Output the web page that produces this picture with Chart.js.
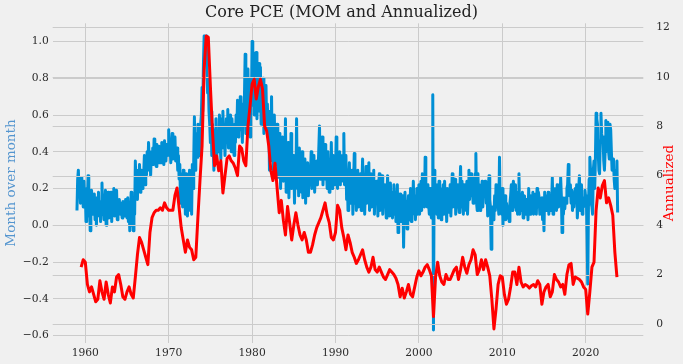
<!DOCTYPE html>
<html>
<head>
  <meta charset="UTF-8" />
  <title>Core PCE (MOM and Annualized)</title>
  <script src="https://cdn.jsdelivr.net/npm/chart.js@4.4.0/dist/chart.umd.min.js"></script>
  <style>
    html,body{margin:0;padding:0;background:#f0f0f0;}
    #wrap{width:683px;height:364px;position:relative;}
  </style>
</head>
<body>
  <div id="wrap"><canvas id="pceChart"></canvas></div>

  <script>
    // month-over-month change (%), one row per year, Jan 1959 .. Nov 2023
    const momStart=1959.0;
    const momValues=[
      0.08,0.25,0.30,0.18,0.22,0.12,0.26,0.15,0.20,0.10,0.24,0.14,
      0.18,0.02,0.20,0.12,0.27,0.05,0.16,-0.03,0.12,0.19,0.06,0.15,
      0.10,0.17,0.03,0.12,0.00,0.15,0.08,0.18,0.05,0.13,0.02,0.11,
      0.23,0.06,0.15,0.03,0.12,0.19,0.00,0.14,0.07,0.18,0.04,0.13,
      0.09,0.18,0.02,0.16,0.08,0.20,0.05,0.15,0.10,0.19,0.03,0.12,
      0.08,0.14,0.06,0.12,0.09,0.04,0.13,0.07,0.11,0.05,0.14,0.08,
      0.04,0.15,0.02,0.12,-0.03,0.09,0.18,0.00,0.14,-0.03,0.10,0.06,
      0.35,0.20,0.28,0.14,0.30,0.22,0.33,0.18,0.26,0.30,0.20,0.24,
      0.28,0.38,0.22,0.35,0.27,0.40,0.30,0.45,0.33,0.38,0.27,0.40,
      0.35,0.42,0.33,0.47,0.36,0.40,0.32,0.44,0.38,0.34,0.43,0.37,
      0.38,0.34,0.45,0.36,0.42,0.33,0.46,0.40,0.35,0.44,0.38,0.40,
      0.52,0.38,0.46,0.34,0.43,0.50,0.36,0.45,0.40,0.48,0.35,0.42,
      0.42,0.30,0.38,0.25,0.33,0.12,0.28,0.22,0.10,0.30,0.18,0.25,
      0.06,0.28,0.15,0.05,0.22,0.08,0.30,0.12,0.20,0.06,0.33,0.20,
      0.35,0.59,0.30,0.42,0.50,0.37,0.55,0.40,0.48,0.38,0.55,0.60,
      0.75,0.62,0.88,1.03,0.95,1.02,1.03,0.85,0.72,0.80,0.62,0.55,
      0.45,0.62,0.38,0.55,0.45,0.30,0.52,0.40,0.58,0.35,0.50,0.42,
      0.40,0.60,0.45,0.36,0.58,0.48,0.62,0.42,0.55,0.38,0.50,0.58,
      0.50,0.63,0.42,0.55,0.48,0.60,0.40,0.58,0.46,0.52,0.38,0.55,
      0.45,0.60,0.50,0.68,0.48,0.62,0.55,0.70,0.52,0.60,0.45,0.66,
      0.55,0.70,0.93,0.50,0.78,0.62,0.85,0.55,0.72,0.48,0.80,0.65,
      1.00,0.66,0.94,0.60,0.85,0.72,0.94,0.58,0.80,0.65,0.88,0.62,
      0.86,0.55,0.72,0.62,0.80,0.50,0.70,0.58,0.76,0.52,0.66,0.48,
      0.62,0.30,0.58,0.40,0.70,0.35,0.52,0.26,0.60,0.38,0.48,0.33,
      0.55,0.26,0.45,0.32,0.50,0.20,0.42,0.30,0.48,0.24,0.40,0.28,
      0.58,0.18,0.40,0.30,0.45,0.15,0.36,0.22,0.50,0.20,0.34,0.25,
      0.38,0.12,0.30,0.20,0.58,0.22,0.35,0.16,0.42,0.25,0.32,0.18,
      0.40,0.15,0.30,0.22,0.36,0.12,0.28,0.20,0.34,0.16,0.26,0.22,
      0.28,0.40,0.20,0.32,0.24,0.38,0.18,0.30,0.26,0.35,0.22,0.30,
      0.30,0.54,0.25,0.38,0.28,0.48,0.22,0.36,0.30,0.44,0.25,0.32,
      0.20,0.40,0.26,0.18,0.35,0.24,0.45,0.20,0.30,0.38,0.22,0.28,
      0.25,0.48,0.30,0.20,0.36,0.26,0.40,0.22,0.34,0.28,0.38,0.24,
      0.50,0.22,0.30,0.38,0.14,0.28,0.08,0.25,0.34,0.12,0.26,0.18,
      0.30,0.06,0.22,0.39,0.12,0.28,0.08,0.20,0.30,0.10,0.26,0.16,
      0.28,0.08,0.22,0.36,0.14,0.26,0.06,0.20,0.32,0.12,0.24,0.16,
      0.34,0.08,0.22,0.28,0.10,0.24,0.12,0.30,0.06,0.20,0.12,0.24,
      0.24,0.05,0.20,0.28,0.08,0.22,0.12,0.27,0.06,0.18,0.10,0.22,
      0.20,0.04,0.16,0.27,0.08,0.20,0.05,0.23,0.10,0.18,0.04,0.16,
      0.22,0.06,0.18,0.02,0.14,0.22,-0.04,0.14,0.05,0.17,0.02,0.12,
      0.04,0.16,-0.12,0.12,0.18,0.02,0.13,-0.02,0.07,0.16,0.03,0.10,
      0.20,0.02,0.14,0.06,0.24,0.08,0.16,0.03,0.12,0.20,0.06,0.15,
      0.22,0.06,0.16,0.24,0.08,0.28,0.12,0.20,0.10,0.37,0.14,0.22,
      0.10,0.22,0.12,0.06,0.20,0.08,0.04,0.16,0.71,-0.57,0.30,0.14,
      0.10,0.22,0.06,0.18,0.04,0.24,0.10,0.20,0.03,0.16,0.08,0.22,
      0.06,0.24,0.08,0.16,0.02,0.20,0.10,0.18,0.07,0.22,0.05,0.16,
      0.28,0.10,0.22,0.14,0.25,0.06,0.20,0.10,0.22,0.13,0.07,0.20,
      0.32,0.10,0.24,0.14,0.06,0.22,0.12,0.20,0.08,0.24,0.06,0.18,
      0.30,0.14,0.24,0.28,0.16,0.26,0.12,0.24,0.15,0.28,0.39,0.12,
      0.08,0.28,0.12,0.22,0.08,0.20,0.14,0.24,0.10,0.22,0.16,0.24,
      0.24,0.12,0.20,0.05,0.22,0.27,0.14,0.10,-0.13,0.00,0.10,0.03,
      0.04,0.16,0.08,0.22,0.10,0.20,0.12,0.06,0.37,0.08,0.18,0.06,
      0.20,0.00,0.14,0.06,0.16,0.03,0.12,0.10,0.04,0.09,0.02,0.12,
      0.16,0.22,0.08,0.20,0.24,0.14,0.10,0.22,0.08,0.15,0.06,0.18,
      0.28,0.06,0.17,0.10,0.08,0.18,0.04,0.14,0.16,0.08,0.06,0.14,
      0.14,0.03,0.20,0.08,0.06,0.16,0.13,0.08,0.18,0.06,0.14,0.16,
      0.17,0.06,0.20,0.12,0.18,0.15,0.06,0.13,0.09,0.15,0.03,0.10,
      -0.03,0.18,0.08,0.16,0.12,0.08,0.18,0.06,0.13,0.16,0.08,0.12,
      0.26,0.06,0.20,0.16,0.10,0.20,0.08,0.22,0.14,0.10,0.17,0.11,
      0.26,0.16,-0.04,0.15,0.06,0.13,0.09,0.15,0.12,0.20,0.22,0.33,
      0.24,0.16,0.22,0.12,0.19,0.08,0.14,0.10,0.17,0.20,0.13,0.22,
      0.04,0.12,0.20,0.27,0.08,0.17,0.22,0.06,0.13,0.10,0.15,0.19,
      0.15,0.16,-0.05,-0.32,0.10,0.25,0.37,0.30,0.12,0.10,0.06,0.30,
      0.35,0.20,0.36,0.61,0.58,0.55,0.40,0.30,0.28,0.46,0.61,0.50,
      0.45,0.48,0.35,0.30,0.40,0.57,0.50,0.56,0.45,0.40,0.36,0.55,
      0.52,0.40,0.30,0.33,0.36,0.25,0.20,0.30,0.28,0.35,0.07
    ];

    // annualized rate (%), one value per quarter from 1959.5
    const annStart=1959.5;
    const annValues=[
      2.3,2.6,
      2.5,1.6,1.3,1.5,  1.2,0.9,1.0,1.75,  1.3,1.0,1.7,1.2,  0.85,1.5,1.3,1.9,
      2.0,1.6,1.1,1.0,  1.3,1.5,1.2,1.05,  1.9,2.8,3.5,3.3,  3.0,2.7,2.4,3.7,
      4.3,4.5,4.6,4.6,  4.7,4.6,4.9,4.7,  4.6,4.6,4.6,5.2,  5.5,4.7,3.9,3.4,
      2.9,3.4,3.1,3.0,  2.6,2.7,4.3,5.8,  7.2,10.3,11.65,11.6,  9.6,7.8,6.4,6.8,
      6.2,6.6,5.3,6.0,  6.7,6.8,6.6,6.5,  6.3,6.0,7.2,7.1,  6.6,6.4,8.0,8.8,
      9.7,9.9,9.1,9.6,  9.9,9.5,8.0,7.8,  7.2,6.2,5.8,6.5,  5.5,4.5,5.0,4.2,
      3.6,4.75,4.1,3.4, 4.0,4.5,4.0,3.6,  3.4,3.7,3.4,2.9,  2.9,3.2,3.6,3.9,
      4.1,4.3,4.6,4.9,  4.4,4.1,3.5,3.4,  3.7,4.8,4.6,3.9,  3.5,3.0,3.6,3.3,
      2.9,2.7,2.45,2.6, 2.8,3.0,2.6,2.3,  2.1,2.3,2.7,2.2,  2.1,2.3,2.1,1.9,
      1.8,2.0,2.2,2.1,  2.0,1.85,1.6,1.1, 1.45,1.05,1.3,1.6, 1.2,1.1,1.5,1.9,
      2.15,1.95,2.1,2.3, 2.4,2.2,1.95,0.3, 1.9,2.5,1.95,1.7, 1.6,2.0,1.8,1.8,
      2.0,2.2,2.3,1.8,  2.2,2.7,2.3,2.05, 2.4,2.6,3.0,2.8,  2.0,2.2,2.6,2.2,
      2.6,2.3,1.95,1.0, -0.2,0.6,1.6,1.95, 1.9,1.2,0.8,1.0, 1.5,2.1,2.1,1.6,
      2.3,1.7,1.5,1.6,  1.55,1.45,1.55,1.6, 1.5,1.75,1.6,0.8, 1.3,1.5,1.6,1.1,
      1.3,2.0,1.8,1.7,  1.5,1.6,1.2,2.0,  2.4,2.45,1.6,1.9, 1.85,1.8,1.7,1.5,
      1.4,0.4,1.3,2.3,  2.5,4.6,5.5,5.1,  5.6,5.8,4.9,5.1,  4.8,4.4,2.9,1.9
    ];

    const yearTicks=[1960,1970,1980,1990,2000,2010,2020];
    const momTicks=[-0.6,-0.4,-0.2,0.0,0.2,0.4,0.6,0.8,1.0];
    const annTicks=[0,2,4,6,8,10,12];

    const serif='"DejaVu Serif", serif';
    const gridColor='#cbcbcb';
    const minus=s=>String(s).replace('-','\u2212');

    const momData=momValues.map((v,i)=>({x:momStart+i/12,y:v}));
    const annData=annValues.map((v,i)=>({x:annStart+i*0.25,y:v}));

    // the twin axis grid sits above the blue line but below the red one, and its label reads upward
    const twinAxis={
      id:'twinAxis',
      afterDatasetDraw(chart,args){
        if(args.index!==1) return;
        const ctx=chart.ctx, a=chart.chartArea, s=chart.scales.y1;
        ctx.save();
        ctx.strokeStyle=gridColor;
        ctx.lineWidth=1;
        annTicks.forEach(t=>{
          const y=Math.round(s.getPixelForValue(t))+0.5;
          ctx.beginPath();ctx.moveTo(a.left,y);ctx.lineTo(a.right,y);ctx.stroke();
        });
        ctx.restore();
      },
      afterDraw(chart){
        const ctx=chart.ctx, a=chart.chartArea;
        ctx.save();
        ctx.translate(669,(a.top+a.bottom)/2);
        ctx.rotate(-Math.PI/2);
        ctx.font='13.5px '+serif;
        ctx.fillStyle='#ff0000';
        ctx.textAlign='center';
        ctx.textBaseline='middle';
        ctx.fillText('Annualized',0,0);
        ctx.restore();
      }
    };

    const tickFont={family:serif,size:10.7};

    new Chart(document.getElementById('pceChart'),{
      type:'line',
      data:{datasets:[
        {label:'Annualized',data:annData,yAxisID:'y1',borderColor:'#ff0000',borderWidth:3,pointRadius:0,tension:0,borderJoinStyle:'round',fill:false},
        {label:'Month over month',data:momData,yAxisID:'y',borderColor:'#008fd5',borderWidth:3,pointRadius:0,tension:0,borderJoinStyle:'round',fill:false}
      ]},
      options:{
        responsive:true,maintainAspectRatio:false,animation:false,devicePixelRatio:1,events:[],
        layout:{padding:0},
        plugins:{
          legend:{display:false},
          tooltip:{enabled:false},
          title:{display:true,text:'Core PCE (MOM and Annualized)',color:'#222',
            font:{family:serif,size:16,weight:'normal'},padding:{top:3,bottom:1.1}}
        },
        scales:{
          x:{type:'linear',min:1956.09,max:2026.91,
            afterBuildTicks:s=>{s.ticks=yearTicks.map(v=>({value:v}));},
            afterFit:s=>{s.height=21.3;},
            grid:{color:gridColor,lineWidth:1,drawTicks:false},
            border:{display:false},
            ticks:{font:tickFont,color:'#2b2b2b',padding:4,maxRotation:0,callback:v=>String(v)}},
          y:{position:'left',min:-0.639,max:1.099,
            afterBuildTicks:s=>{s.ticks=momTicks.map(v=>({value:v}));},
            afterFit:s=>{s.width=52.7;},
            grid:{color:gridColor,lineWidth:1,drawTicks:false},
            border:{display:false},
            ticks:{font:tickFont,color:'#2b2b2b',padding:4,callback:v=>minus(v.toFixed(1))},
            title:{display:true,text:'Month over month',color:'#5495cf',
              font:{family:serif,size:13.5},padding:{top:3,bottom:0}}},
          y1:{position:'right',min:-0.756,max:12.162,
            afterBuildTicks:s=>{s.ticks=annTicks.map(v=>({value:v}));},
            afterFit:s=>{s.width=39.7;},
            grid:{display:false,drawOnChartArea:false},
            border:{display:false},
            ticks:{font:tickFont,color:'#2b2b2b',padding:5,callback:v=>String(v)}}
        }
      },
      plugins:[twinAxis]
    });
  </script>
</body>
</html>
